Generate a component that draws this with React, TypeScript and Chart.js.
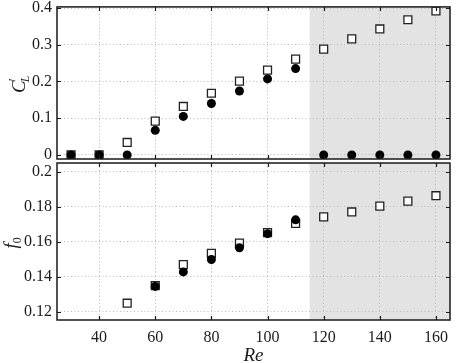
import { useEffect, useRef } from 'react';
import { Chart, registerables } from 'chart.js';

Chart.register(...registerables);

// ---- data ----
const reynolds = [30, 40, 50, 60, 70, 80, 90, 100, 110, 120, 130, 140, 150, 160];
const clSquares = [0, 0, 0.034, 0.092, 0.132, 0.168, 0.201, 0.231, 0.261, 0.288, 0.316, 0.343, 0.368, 0.392];
const clCircles = [0, 0, 0, 0.067, 0.105, 0.14, 0.174, 0.207, 0.235, 0, 0, 0, 0, 0];
const f0SquareRe = [50, 60, 70, 80, 90, 100, 110, 120, 130, 140, 150, 160];
const f0Squares = [0.1248, 0.1348, 0.1469, 0.1533, 0.1592, 0.1652, 0.1704, 0.1742, 0.177, 0.1803, 0.1832, 0.1863];
const f0CircleRe = [60, 70, 80, 90, 100, 110];
const f0Circles = [0.1344, 0.1427, 0.1498, 0.1565, 0.1646, 0.1725];
const xTicks = [40, 60, 80, 100, 120, 140, 160];
const clTicks = [0, 0.1, 0.2, 0.3, 0.4];
const f0Ticks = [0.12, 0.14, 0.16, 0.18, 0.2];
const clTickLabels = ['0', '0.1', '0.2', '0.3', '0.4'];
const f0TickLabels = ['0.12', '0.14', '0.16', '0.18', '0.2'];
const shadeStart = 115;

const W = 474;
const H = 363;
const SERIF = '"Liberation Serif"';

type Panel = {
  top: number;
  bottom: number;
  yMin: number;
  yMax: number;
  yTicks: number[];
  yLabels: string[];
  showX: boolean;
  squares: { x: number; y: number }[];
  circles: { x: number; y: number }[];
  title: 'cl' | 'f0';
};

function zip(xs: number[], ys: number[]) {
  return xs.map((x, i) => ({ x, y: ys[i] }));
}

function makeChart(canvas: HTMLCanvasElement, p: Panel) {
  const LEFT = 57;
  const RIGHT = 450;
  const framePlugin = {
    id: 'frame' + p.title,
    beforeDraw(chart: any) {
      const { ctx, chartArea } = chart;
      const xs = chart.scales.x;
      ctx.save();
      ctx.fillStyle = '#e3e3e3';
      const sx = xs.getPixelForValue(shadeStart);
      ctx.fillRect(sx, chartArea.top, chartArea.right - sx, chartArea.bottom - chartArea.top);
      ctx.restore();
    },
    afterDraw(chart: any) {
      const { ctx, chartArea } = chart;
      const xs = chart.scales.x;
      const ys = chart.scales.y;
      ctx.save();
      ctx.strokeStyle = '#1a1a1a';
      ctx.lineWidth = 1.5;
      ctx.strokeRect(chartArea.left, chartArea.top, chartArea.right - chartArea.left, chartArea.bottom - chartArea.top);
      ctx.lineWidth = 1.2;
      ctx.beginPath();
      const tl = 4;
      for (const t of xTicks) {
        const px = Math.round(xs.getPixelForValue(t)) + 0.5;
        ctx.moveTo(px, chartArea.bottom);
        ctx.lineTo(px, chartArea.bottom - tl);
        ctx.moveTo(px, chartArea.top);
        ctx.lineTo(px, chartArea.top + tl);
      }
      for (const t of p.yTicks) {
        const py = Math.round(ys.getPixelForValue(t)) + 0.5;
        ctx.moveTo(chartArea.left, py);
        ctx.lineTo(chartArea.left + tl, py);
        ctx.moveTo(chartArea.right, py);
        ctx.lineTo(chartArea.right - tl, py);
      }
      ctx.stroke();

      // axis titles
      ctx.fillStyle = '#1a1a1a';
      const cy = (chartArea.top + chartArea.bottom) / 2;
      if (p.title === 'cl') {
        ctx.save();
        ctx.translate(25, cy + 10);
        ctx.rotate(-Math.PI / 2);
        ctx.textBaseline = 'alphabetic';
        ctx.textAlign = 'left';
        ctx.font = 'italic 19px ' + SERIF;
        ctx.fillText('C', 0, 0);
        const cw = ctx.measureText('C').width;
        ctx.font = '14px ' + SERIF;
        ctx.fillText('\u2032', cw - 1, -6);
        ctx.font = 'italic 12px ' + SERIF;
        ctx.fillText('L', cw - 2, 4);
        ctx.restore();
      } else {
        ctx.save();
        ctx.translate(17, cy + 7);
        ctx.rotate(-Math.PI / 2);
        ctx.textBaseline = 'alphabetic';
        ctx.textAlign = 'left';
        ctx.font = 'italic 19px ' + SERIF;
        ctx.fillText('f', 0, 0);
        const fw = ctx.measureText('f').width;
        ctx.font = '12px ' + SERIF;
        ctx.fillText('0', fw, 4);
        ctx.restore();
      }
      if (p.showX) {
        ctx.font = 'italic 19px ' + SERIF;
        ctx.textAlign = 'center';
        ctx.textBaseline = 'alphabetic';
        ctx.fillText('Re', (chartArea.left + chartArea.right) / 2, chartArea.bottom + 41);
      }
      ctx.restore();
    },
  };

  const xAxisH = p.showX ? H - p.bottom : 0;

  return new Chart(canvas, {
    type: 'scatter',
    data: {
      datasets: [
        {
          data: p.circles,
          pointStyle: 'circle',
          pointRadius: 4.5,
          pointHoverRadius: 4.5,
          backgroundColor: '#000',
          borderColor: '#000',
          borderWidth: 0,
        },
        {
          data: p.squares,
          pointStyle: 'rect',
          pointRadius: 5.6,
          pointHoverRadius: 5.6,
          backgroundColor: '#fff',
          borderColor: '#222',
          borderWidth: 1.3,
        },
      ],
    },
    options: {
      responsive: false,
      animation: false,
      events: [],
      layout: {
        padding: { top: p.top, left: 0, right: W - RIGHT, bottom: p.showX ? 0 : H - p.bottom },
      },
      plugins: { legend: { display: false }, tooltip: { enabled: false } },
      scales: {
        x: {
          type: 'linear',
          min: 25,
          max: 165,
          afterBuildTicks(scale: any) {
            scale.ticks = xTicks.map((v) => ({ value: v }));
          },
          afterFit(scale: any) {
            scale.height = xAxisH;
            scale.paddingLeft = 0;
            scale.paddingRight = 0;
          },
          grid: { color: '#b8b8b8', lineWidth: 1, drawTicks: false },
          border: { display: false, dash: [1, 2.5] },
          ticks: {
            display: p.showX,
            padding: 8,
            color: '#1a1a1a',
            font: { family: SERIF, size: 16 },
            maxRotation: 0,
            callback: (v: any) => String(v),
          },
        },
        y: {
          type: 'linear',
          min: p.yMin,
          max: p.yMax,
          afterBuildTicks(scale: any) {
            scale.ticks = p.yTicks.map((v) => ({ value: v }));
          },
          afterFit(scale: any) {
            scale.width = LEFT;
            scale.paddingTop = 0;
            scale.paddingBottom = 0;
          },
          grid: { color: '#b8b8b8', lineWidth: 1, drawTicks: false },
          border: { display: false, dash: [1, 2.5] },
          ticks: {
            padding: 5,
            color: '#1a1a1a',
            font: { family: SERIF, size: 16 },
            callback: (v: any) => {
              const i = p.yTicks.findIndex((t) => Math.abs(t - v) < 1e-9);
              return i >= 0 ? p.yLabels[i] : '';
            },
          },
        },
      },
    },
    plugins: [framePlugin],
  } as any);
}

export default function App() {
  const topRef = useRef<HTMLCanvasElement | null>(null);
  const botRef = useRef<HTMLCanvasElement | null>(null);

  useEffect(() => {
    let cancelled = false;
    const charts: Chart[] = [];
    const build = () => {
      if (cancelled) return;
      charts.push(
        makeChart(topRef.current!, {
          top: 5,
          bottom: 159,
          yMin: -0.011,
          yMax: 0.403,
          yTicks: clTicks,
          yLabels: clTickLabels,
          showX: false,
          squares: zip(reynolds, clSquares),
          circles: zip(reynolds, clCircles),
          title: 'cl',
        })
      );
      charts.push(
        makeChart(botRef.current!, {
          top: 163,
          bottom: 320,
          yMin: 0.1152,
          yMax: 0.205,
          yTicks: f0Ticks,
          yLabels: f0TickLabels,
          showX: true,
          squares: zip(f0SquareRe, f0Squares),
          circles: zip(f0CircleRe, f0Circles),
          title: 'f0',
        })
      );
    };
    const fontsApi: any = (document as any).fonts;
    const wait = fontsApi
      ? Promise.all([
          fontsApi.load('16px "Liberation Serif"'),
          fontsApi.load('italic 19px "Liberation Serif"'),
        ]).catch(() => null)
      : Promise.resolve(null);
    const timer = setTimeout(() => {
      wait.then(build);
    }, 150);
    return () => {
      cancelled = true;
      clearTimeout(timer);
      charts.forEach((c) => c.destroy());
    };
  }, []);

  const style: any = { position: 'absolute', left: 0, top: 0, width: W, height: H, display: 'block' };
  return (
    <div style={{ position: 'absolute', left: 0, top: 0, width: W, height: H, background: '#fff', overflow: 'hidden' }}>
      <span style={{ position: 'absolute', left: 0, top: 0, fontFamily: 'Liberation Serif', fontSize: 16, color: 'transparent' }}>
        0.<i>Re</i>
      </span>
      <canvas ref={topRef} width={W} height={H} style={style} />
      <canvas ref={botRef} width={W} height={H} style={style} />
    </div>
  );
}
